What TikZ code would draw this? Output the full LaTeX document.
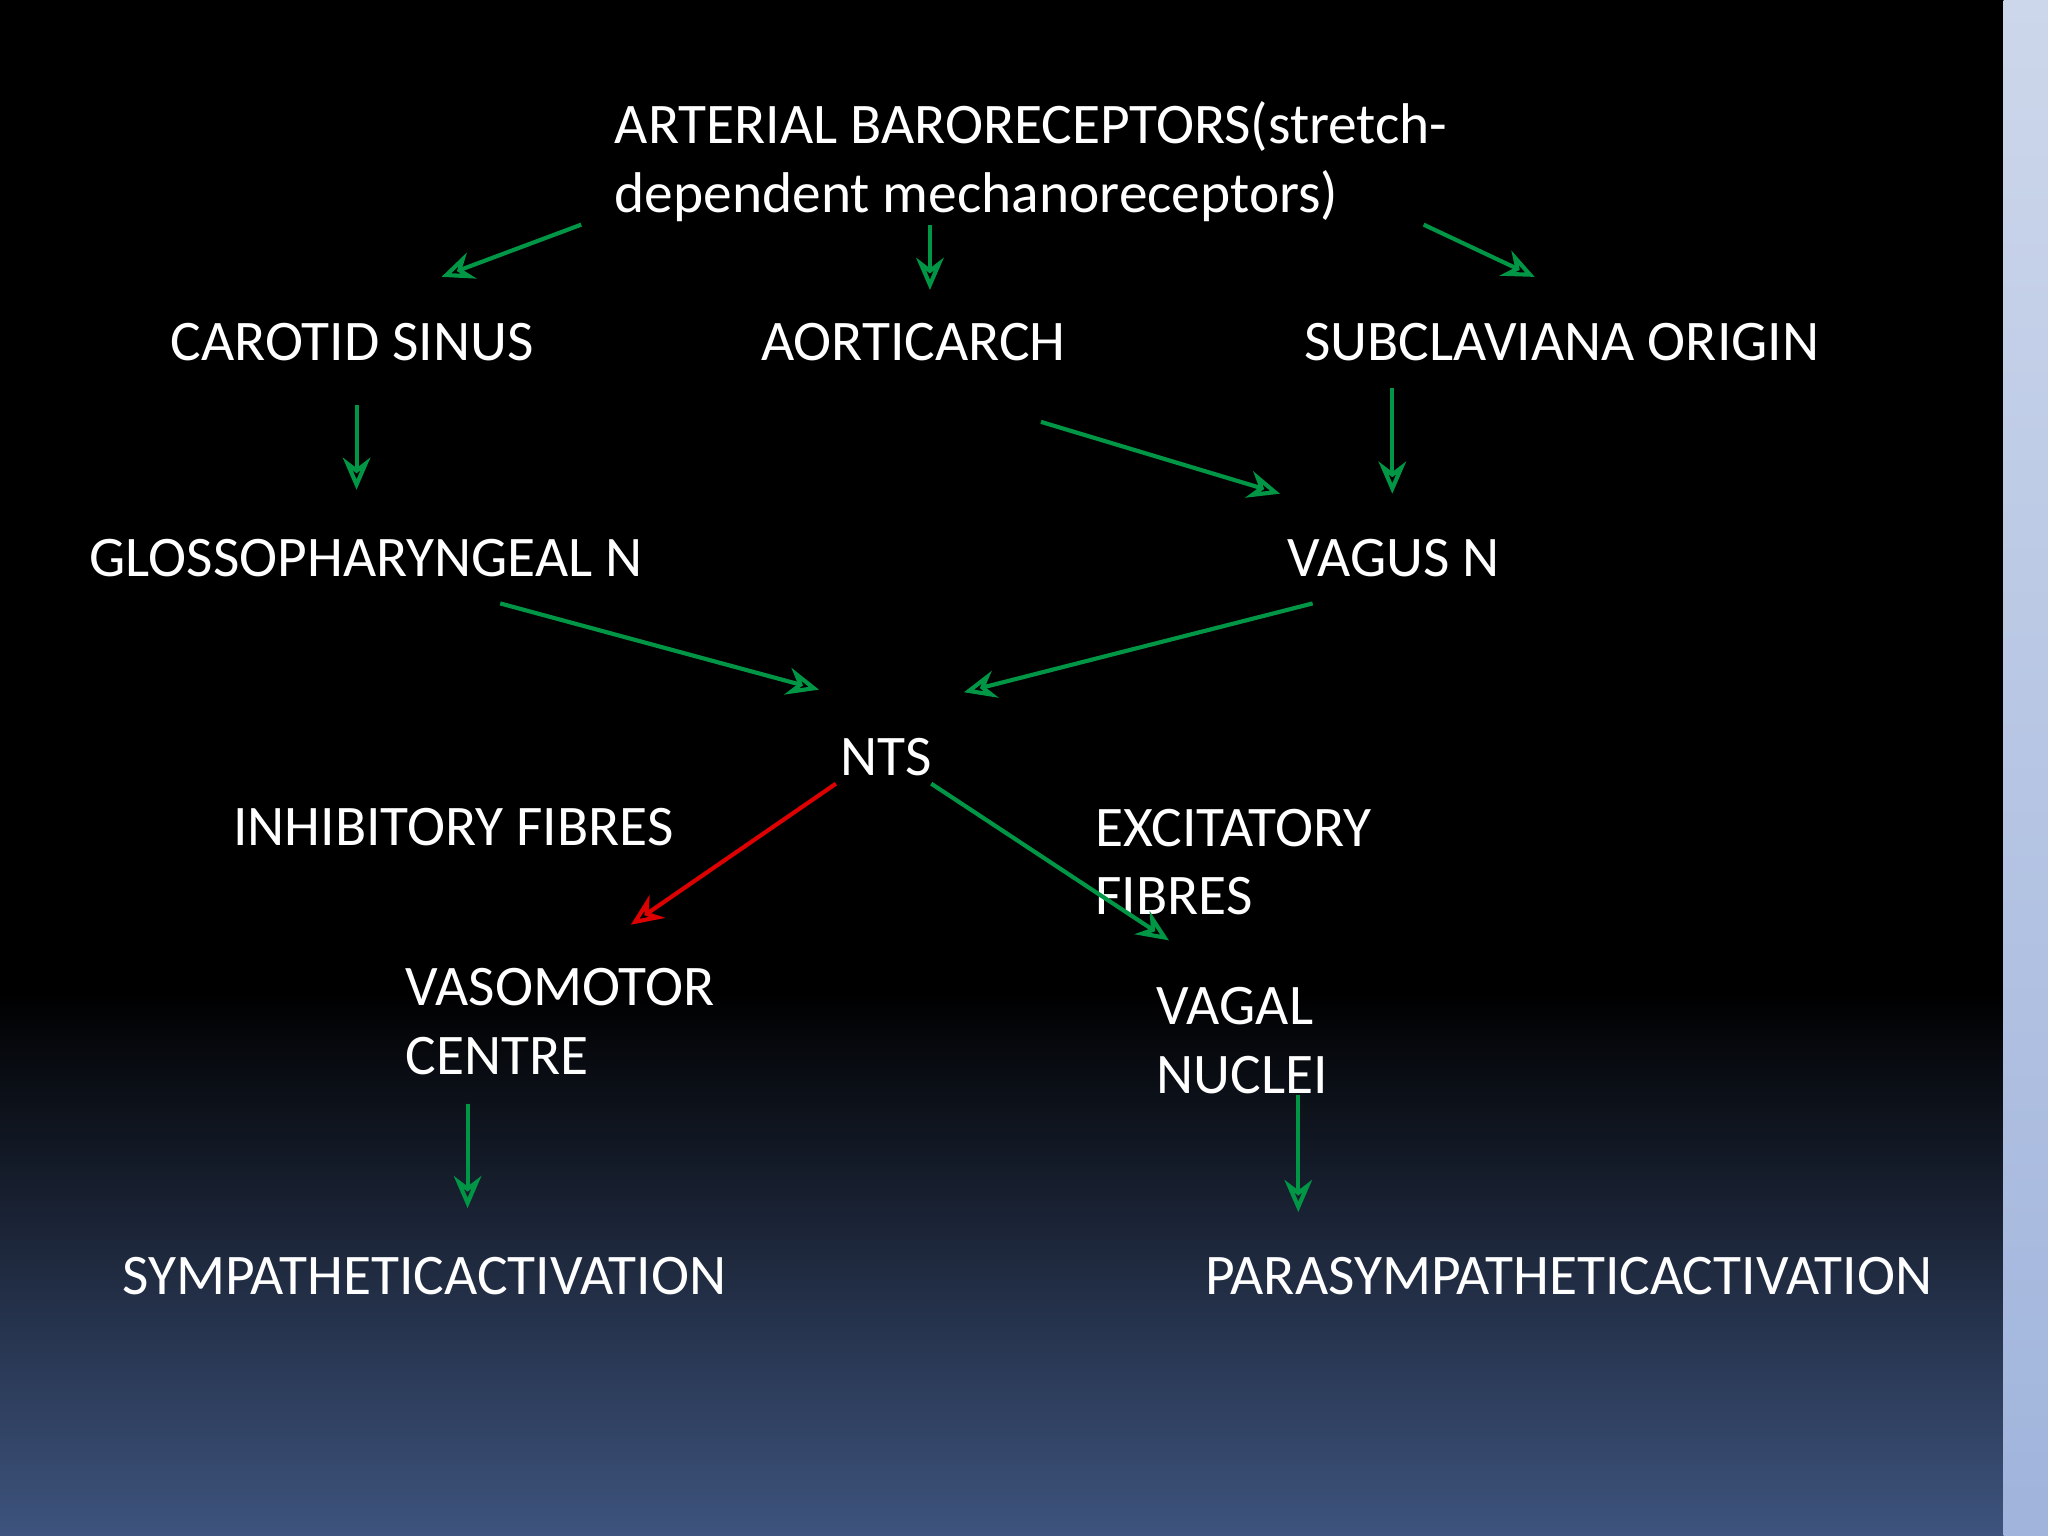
\documentclass[tikz,border=0pt]{standalone}
\usepackage{fontspec}
\setmainfont{Carlito}
\usetikzlibrary{arrows.meta}
\definecolor{arrg}{RGB}{0,150,70}
\definecolor{arrr}{RGB}{220,0,0}
\definecolor{botc}{RGB}{62,84,126}
\definecolor{striptop}{RGB}{205,215,235}
\definecolor{stripbot}{RGB}{160,180,220}
\begin{document}
\begin{tikzpicture}[x=0.01cm,y=-0.01cm,
  lbl/.style={anchor=west,text=white,font=\fontsize{12.5}{15}\selectfont,inner sep=0pt,align=left},
  ga/.style={draw=arrg,line width=0.9pt,-{Stealth[length=7pt,width=6pt,open]}},
  ra/.style={draw=arrr,line width=0.9pt,-{Stealth[length=7pt,width=6pt,open]}}]
\useasboundingbox (0,0) rectangle (1568,1176);
\fill[black] (0,0) rectangle (1568,760);
\shade[top color=black,bottom color=botc] (0,759) rectangle (1568,1176);
\shade[top color=striptop,bottom color=stripbot] (1534,0) rectangle (1568,1176);
\node[lbl] (t) at (470,124) {ARTERIAL BARORECEPTORS(stretch-\\dependent mechanoreceptors)};
\node[lbl] (cs) at (130,262) {CAROTID SINUS};
\node[lbl] (aa) at (582,262) {AORTICARCH};
\node[lbl] (so) at (998,262) {SUBCLAVIANA ORIGIN};
\node[lbl] (gn) at (68,427) {GLOSSOPHARYNGEAL N};
\node[lbl] (vn) at (985,427) {VAGUS N};
\node[lbl] (nts) at (643,580) {NTS};
\node[lbl] (inh) at (178,633) {INHIBITORY FIBRES};
\node[lbl] (exc) at (838,660) {EXCITATORY\\FIBRES};
\node[lbl] (vmc) at (310,782) {VASOMOTOR\\CENTRE};
\node[lbl] (vgn) at (885,797) {VAGAL\\NUCLEI};
\node[lbl] (sa) at (93,977) {SYMPATHETICACTIVATION};
\node[lbl] (pa) at (922,977) {PARASYMPATHETICACTIVATION};
\foreach \n/\x/\y in {a1/445/172,a2/338/212,b1/712/172,b2/712/222,c1/1090/172,c2/1175/212,
 d1/273/310,d2/273/375,e1/797/323,e2/980/378,f1/1066/297,f2/1066/378,g1/383/462,g2/627/528,
 h1/1005/462,h2/738/530,i1/640/600,i2/483/708,j1/713/600,j2/895/720,k1/358/845,k2/358/925,
 l1/994/838,l2/994/928}
 \coordinate (\n) at (\x,\y);
\draw[ga] (a1)--(a2); \draw[ga] (b1)--(b2); \draw[ga] (c1)--(c2);
\draw[ga] (d1)--(d2); \draw[ga] (e1)--(e2); \draw[ga] (f1)--(f2);
\draw[ga] (g1)--(g2); \draw[ga] (h1)--(h2); \draw[ra] (i1)--(i2);
\draw[ga] (j1)--(j2); \draw[ga] (k1)--(k2); \draw[ga] (l1)--(l2);
\end{tikzpicture}
\end{document}
